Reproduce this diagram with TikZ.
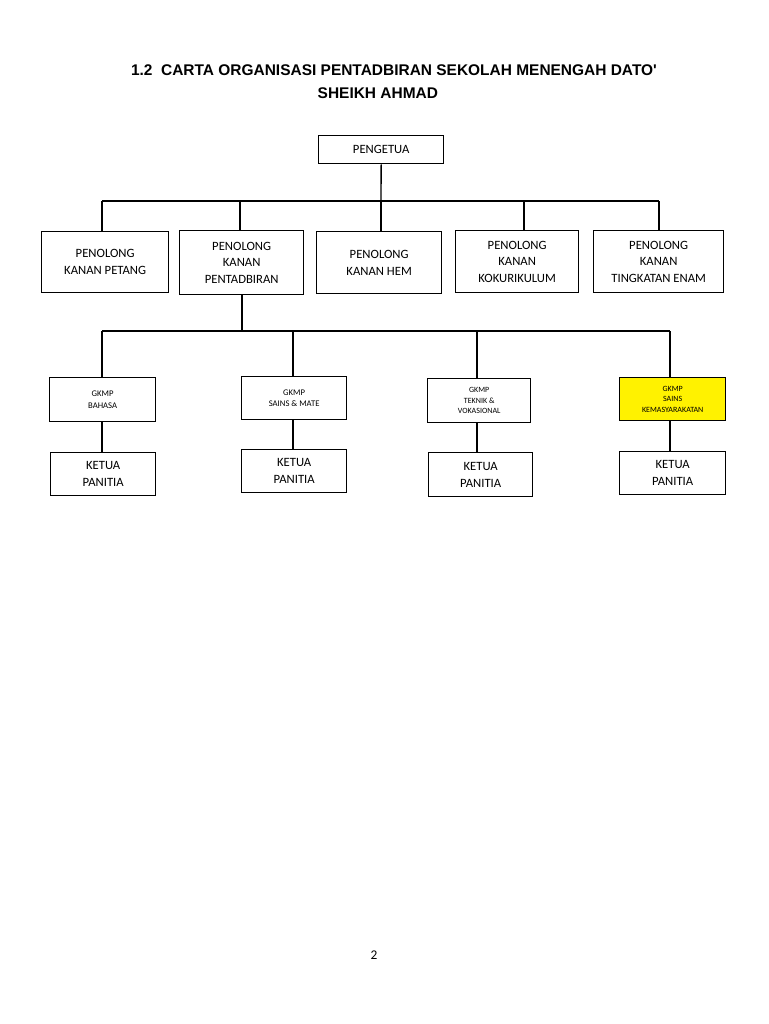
\documentclass[tikz,border=0pt]{standalone}
\usepackage{fontspec}
\setmainfont{Carlito}
\newfontfamily\arialfont{Liberation Sans}
\begin{document}
\begin{tikzpicture}[x=0.75pt,y=-0.75pt,
  bx/.style={draw,line width=1pt,align=center,inner sep=0pt,anchor=north west,font=\fontsize{9.5}{12.5}\selectfont},
  sm/.style={bx,font=\fontsize{6.5}{8.5}\selectfont},
  ln/.style={line width=1pt}]
\useasboundingbox (0,0) rectangle (768,1024);
\node[font=\arialfont\bfseries\fontsize{11.6}{13}\selectfont] (t1) at (394,70) {1.2\ \ CARTA ORGANISASI PENTADBIRAN SEKOLAH MENENGAH DATO'};
\node[font=\arialfont\bfseries\fontsize{11.6}{13}\selectfont,anchor=west] (t2) at (313,93) {SHEIKH AHMAD};
\node[bx,minimum width={125*0.75pt},minimum height={28*0.75pt}] (p) at (318,135) {PENGETUA};
\node[bx,minimum width={127*0.75pt},minimum height={61*0.75pt}] (a1) at (41,231) {PENOLONG\\KANAN PETANG};
\node[bx,minimum width={124*0.75pt},minimum height={64*0.75pt}] (a2) at (179,230) {PENOLONG\\KANAN\\PENTADBIRAN};
\node[bx,minimum width={125*0.75pt},minimum height={62*0.75pt}] (a3) at (316,231) {PENOLONG\\KANAN HEM};
\node[bx,minimum width={123*0.75pt},minimum height={62*0.75pt}] (a4) at (455,230) {PENOLONG\\KANAN\\KOKURIKULUM};
\node[bx,minimum width={130*0.75pt},minimum height={62*0.75pt}] (a5) at (593,230) {PENOLONG\\KANAN\\TINGKATAN ENAM};
\node[sm,minimum width={106*0.75pt},minimum height={44*0.75pt}] (g1) at (49,377) {GKMP\\BAHASA};
\node[sm,minimum width={105*0.75pt},minimum height={43*0.75pt}] (g2) at (241,376) {GKMP\\SAINS \& MATE};
\node[sm,minimum width={103*0.75pt},minimum height={44*0.75pt},font=\fontsize{6}{8}\selectfont] (g3) at (427,378) {GKMP\\TEKNIK \&\\VOKASIONAL};
\node[sm,minimum width={106*0.75pt},minimum height={43*0.75pt},fill=yellow,font=\fontsize{6}{8}\selectfont] (g4) at (619,377) {GKMP\\SAINS\\KEMASYARAKATAN};
\node[bx,minimum width={105*0.75pt},minimum height={43*0.75pt}] (k1) at (50,452) {KETUA\\PANITIA};
\node[bx,minimum width={105*0.75pt},minimum height={43*0.75pt}] (k2) at (241,449) {KETUA\\PANITIA};
\node[bx,minimum width={104*0.75pt},minimum height={44*0.75pt}] (k3) at (428,452) {KETUA\\PANITIA};
\node[bx,minimum width={106*0.75pt},minimum height={43*0.75pt}] (k4) at (619,451) {KETUA\\PANITIA};
\node[font=\fontsize{10}{12}\selectfont] (pg) at (374,955) {2};
\coordinate (h1) at (381,201);
\draw[ln] (p.south) -- (h1);
\draw[ln] (102,201) -- (659,201);
\draw[ln] (102,201) -- (102,231);
\draw[ln] (240,201) -- (240,230);
\draw[ln] (381,201) -- (381,231);
\draw[ln] (524,201) -- (524,230);
\draw[ln] (659,201) -- (659,230);
\coordinate (h2) at (242,331);
\draw[ln] (242,294) -- (h2);
\draw[ln] (102,331) -- (670,331);
\draw[ln] (102,331) -- (102,377);
\draw[ln] (293,331) -- (293,376);
\draw[ln] (477,331) -- (477,378);
\draw[ln] (670,331) -- (670,377);
\draw[ln] (102,421) -- (102,452);
\draw[ln] (293,419) -- (293,449);
\draw[ln] (477,422) -- (477,452);
\draw[ln] (670,420) -- (670,451);
\end{tikzpicture}
\end{document}
